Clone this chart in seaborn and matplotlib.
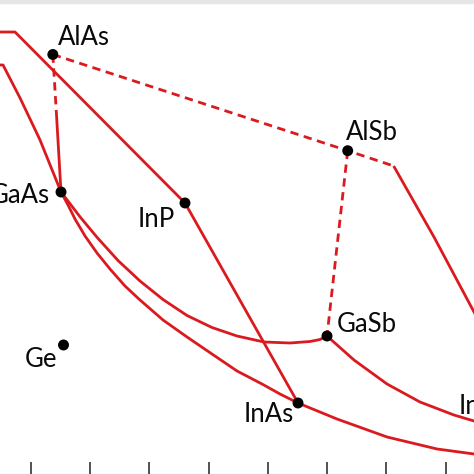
import matplotlib
matplotlib.use("Agg")
import matplotlib.pyplot as plt
import seaborn as sns
import pandas as pd

# ---------------- data (lattice constant in Å, band gap in eV) ----------------
compound_names = ["AlAs", "GaAs", "InP", "AlSb", "GaSb", "InAs", "Ge"]
compound_a = [5.6373, 5.6511, 5.8602, 6.1346, 6.0997, 6.0508, 5.6553]
compound_eg = [2.118, 1.42, 1.3642, 1.6296, 0.6890, 0.3489, 0.6434]

# labels: text, x, y (baseline), horizontal alignment
label_text = ["AlAs", "GaAs", "InP", "AlSb", "GaSb", "InAs", "InSb", "Ge"]
label_a = [5.6460, 5.6325, 5.7809, 6.1317, 6.1165, 5.9597, 6.3223, 5.6443]
label_eg = [2.1662, 1.3642, 1.2423, 1.684, 0.7093, 0.2525, 0.2931, 0.5317]
label_ha = ["left", "right", "left", "left", "left", "left", "left", "right"]

# solid ternary curves
gainp_a = [5.53, 5.5735, 5.8602, 6.0508]
gainp_eg = [2.2322, 2.2322, 1.3642, 0.3489]

gapas_a = [5.53, 5.5533, 5.5820, 5.6157, 5.6511]
gapas_eg = [2.0647, 2.0647, 1.8972, 1.684, 1.42]

algaas_solid_a = [5.6432, 5.6511]
algaas_solid_eg = [1.8261, 1.42]

gaassb_a = [5.6511, 5.6663, 5.6831, 5.7118, 5.7472, 5.7843, 5.8231, 5.8636,
            5.9057, 5.9479, 5.9934, 6.0373, 6.0710, 6.0879, 6.0997]
gaassb_eg = [1.42, 1.3606, 1.2941, 1.1901, 1.0723, 0.9682, 0.8743, 0.7931,
             0.7322, 0.6890, 0.6586, 0.6535, 0.6611, 0.6712, 0.6890]

ingaas_a = [5.6511, 5.6629, 5.6747, 5.6916, 5.7118, 5.7337, 5.7590, 5.7843,
            5.8231, 5.8636, 5.9057, 5.9479, 5.9901, 6.0204, 6.0508]
ingaas_eg = [1.42, 1.3540, 1.2829, 1.1967, 1.1104, 1.0291, 0.9428, 0.8718,
             0.7703, 0.6840, 0.5977, 0.5114, 0.4454, 0.3946, 0.3489]

inassb_a = [6.0508, 6.1165, 6.2009, 6.2852, 6.3476, 6.39]
inassb_eg = [0.3489, 0.2677, 0.1764, 0.1155, 0.0901, 0.08]

ingasb_a = [6.0997, 6.1452, 6.2009, 6.2565, 6.3138, 6.3476, 6.38]
ingasb_eg = [0.6890, 0.5672, 0.4454, 0.3540, 0.2880, 0.2576, 0.24]

alinsb_a = [6.2121, 6.2801, 6.3476, 6.3746]
alinsb_eg = [1.552, 1.1916, 0.8109, 0.6586]

# dashed (indirect) curves
algaas_dash_a = [5.6373, 5.6432]
algaas_dash_eg = [2.118, 1.8261]

alassb_dash_a = [5.6373, 6.1346, 6.2121]
alassb_dash_eg = [2.118, 1.6296, 1.552]

algasb_dash_a = [6.1346, 6.0997]
algasb_dash_eg = [1.6296, 0.6890]

tick_positions = [5.6, 5.7, 5.8, 5.9, 6.0, 6.1, 6.2, 6.3]

# ---------------- plotting ----------------
sns.set_theme(style="white")
plt.rcParams["font.family"] = ["Lato", "DejaVu Sans"]

RED = "#db1a1f"
LW = 2.0

fig = plt.figure(figsize=(4.74, 4.74), dpi=100)
ax = fig.add_axes([0, 0, 1, 1])

solid = [(gainp_a, gainp_eg), (gapas_a, gapas_eg), (algaas_solid_a, algaas_solid_eg),
         (gaassb_a, gaassb_eg), (ingaas_a, ingaas_eg), (inassb_a, inassb_eg),
         (ingasb_a, ingasb_eg), (alinsb_a, alinsb_eg)]
for xs, ys in solid:
    sns.lineplot(x=xs, y=ys, sort=False, estimator=None, ax=ax, color=RED,
                 linewidth=LW, solid_joinstyle="round", solid_capstyle="butt")

dashed = [(algaas_dash_a, algaas_dash_eg), (alassb_dash_a, alassb_dash_eg),
          (algasb_dash_a, algasb_dash_eg)]
for xs, ys in dashed:
    sns.lineplot(x=xs, y=ys, sort=False, estimator=None, ax=ax, color=RED,
                 linewidth=LW, linestyle=(0, (3.0, 2.0)))

pts = pd.DataFrame({"a": compound_a, "eg": compound_eg, "name": compound_names})
sns.scatterplot(data=pts, x="a", y="eg", ax=ax, color="black", s=62,
                edgecolor="none", zorder=5)

for t, xa, ye, ha in zip(label_text, label_a, label_eg, label_ha):
    ax.text(xa, ye, t, ha=ha, va="baseline", fontsize=18.5, color="#0a0a0a")

ax.set_xlim(5.5482, 6.3476)
ax.set_ylim(-0.0115, 2.3946)
ax.set_xticks(tick_positions)
ax.set_xticklabels([])
ax.set_yticks([])
ax.set_xlabel("")
ax.set_ylabel("")
ax.tick_params(axis="x", direction="in", length=8.3, width=1.1, color="#222222",
               bottom=True, top=False)
for s in ax.spines.values():
    s.set_visible(False)

# thin grey strip at the very top
fig.patches.append(plt.Rectangle((0, 1 - 2.5 / 474), 1, 2.5 / 474,
                                 transform=fig.transFigure, color="#e6e6e6",
                                 zorder=10))

fig.savefig("out.png", dpi=100)
